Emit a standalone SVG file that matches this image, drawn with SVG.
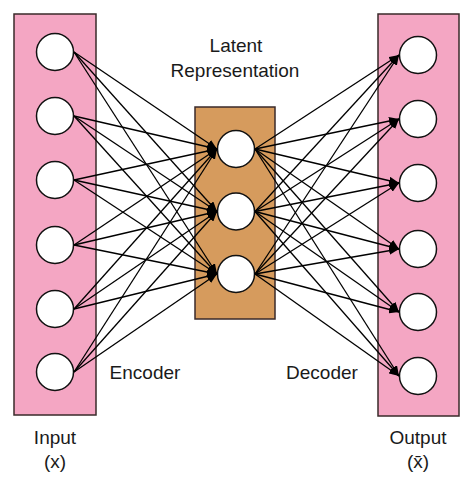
<svg xmlns="http://www.w3.org/2000/svg" width="474" height="485" viewBox="0 0 474 485">
<defs>
<style>
.layer{fill:#F4A6C3;stroke:#3a2a2a;stroke-width:1.5}
.latent{fill:#D69B5D;stroke:#3a2a2a;stroke-width:1.5}
.node{fill:#fff;stroke:#111;stroke-width:1.5}
.edge{stroke:#000;stroke-width:1.3;fill:none;marker-end:url(#ah)}
text{font-family:"Liberation Sans",Arial,sans-serif;font-size:19px;fill:#1a1a1a;text-anchor:middle}
</style>
<marker id="ah" markerUnits="userSpaceOnUse" markerWidth="10" markerHeight="8" refX="10" refY="4" orient="auto">
<path d="M0,0 L10,4 L0,8 z" fill="#000"/>
</marker>
</defs>
<rect width="474" height="485" fill="#fff"/>
<g id="input-layer">
<rect class="layer" x="14" y="14" width="82" height="401"/>
<circle class="node" cx="55" cy="52" r="18.5"/>
<circle class="node" cx="55" cy="116" r="18.5"/>
<circle class="node" cx="55" cy="180" r="18.5"/>
<circle class="node" cx="55" cy="245" r="18.5"/>
<circle class="node" cx="55" cy="309" r="18.5"/>
<circle class="node" cx="55" cy="372" r="18.5"/>
</g>
<g id="latent-layer">
<rect class="latent" x="195" y="107" width="80" height="212"/>
<circle class="node" cx="236" cy="149" r="18.5"/>
<circle class="node" cx="236" cy="211.5" r="18.5"/>
<circle class="node" cx="236" cy="274" r="18.5"/>
</g>
<g id="output-layer">
<rect class="layer" x="378" y="14" width="81" height="402"/>
<circle class="node" cx="418" cy="55" r="18.5"/>
<circle class="node" cx="418" cy="119" r="18.5"/>
<circle class="node" cx="418" cy="183" r="18.5"/>
<circle class="node" cx="418" cy="249" r="18.5"/>
<circle class="node" cx="418" cy="312" r="18.5"/>
<circle class="node" cx="418" cy="376" r="18.5"/>
</g>
<g id="connectors">
<path class="edge" d="M74,52 L217,149"/><path class="edge" d="M74,52 L217,211.5"/><path class="edge" d="M74,52 L217,274"/>
<path class="edge" d="M74,116 L217,149"/><path class="edge" d="M74,116 L217,211.5"/><path class="edge" d="M74,116 L217,274"/>
<path class="edge" d="M74,180 L217,149"/><path class="edge" d="M74,180 L217,211.5"/><path class="edge" d="M74,180 L217,274"/>
<path class="edge" d="M74,245 L217,149"/><path class="edge" d="M74,245 L217,211.5"/><path class="edge" d="M74,245 L217,274"/>
<path class="edge" d="M74,309 L217,149"/><path class="edge" d="M74,309 L217,211.5"/><path class="edge" d="M74,309 L217,274"/>
<path class="edge" d="M74,372 L217,149"/><path class="edge" d="M74,372 L217,211.5"/><path class="edge" d="M74,372 L217,274"/>
<path class="edge" d="M255,149 L399,55"/><path class="edge" d="M255,149 L399,119"/><path class="edge" d="M255,149 L399,183"/><path class="edge" d="M255,149 L399,249"/><path class="edge" d="M255,149 L399,312"/><path class="edge" d="M255,149 L399,376"/>
<path class="edge" d="M255,211.5 L399,55"/><path class="edge" d="M255,211.5 L399,119"/><path class="edge" d="M255,211.5 L399,183"/><path class="edge" d="M255,211.5 L399,249"/><path class="edge" d="M255,211.5 L399,312"/><path class="edge" d="M255,211.5 L399,376"/>
<path class="edge" d="M255,274 L399,55"/><path class="edge" d="M255,274 L399,119"/><path class="edge" d="M255,274 L399,183"/><path class="edge" d="M255,274 L399,249"/><path class="edge" d="M255,274 L399,312"/><path class="edge" d="M255,274 L399,376"/>
</g>
<g id="labels">
<text x="236" y="52">Latent</text>
<text x="235" y="77">Representation</text>
<text x="145" y="379">Encoder</text>
<text x="322" y="379">Decoder</text>
<text x="55" y="444">Input</text>
<text x="55" y="468">(x)</text>
<text x="418" y="444">Output</text>
<text x="418" y="468">(x̄)</text>
</g>
</svg>
